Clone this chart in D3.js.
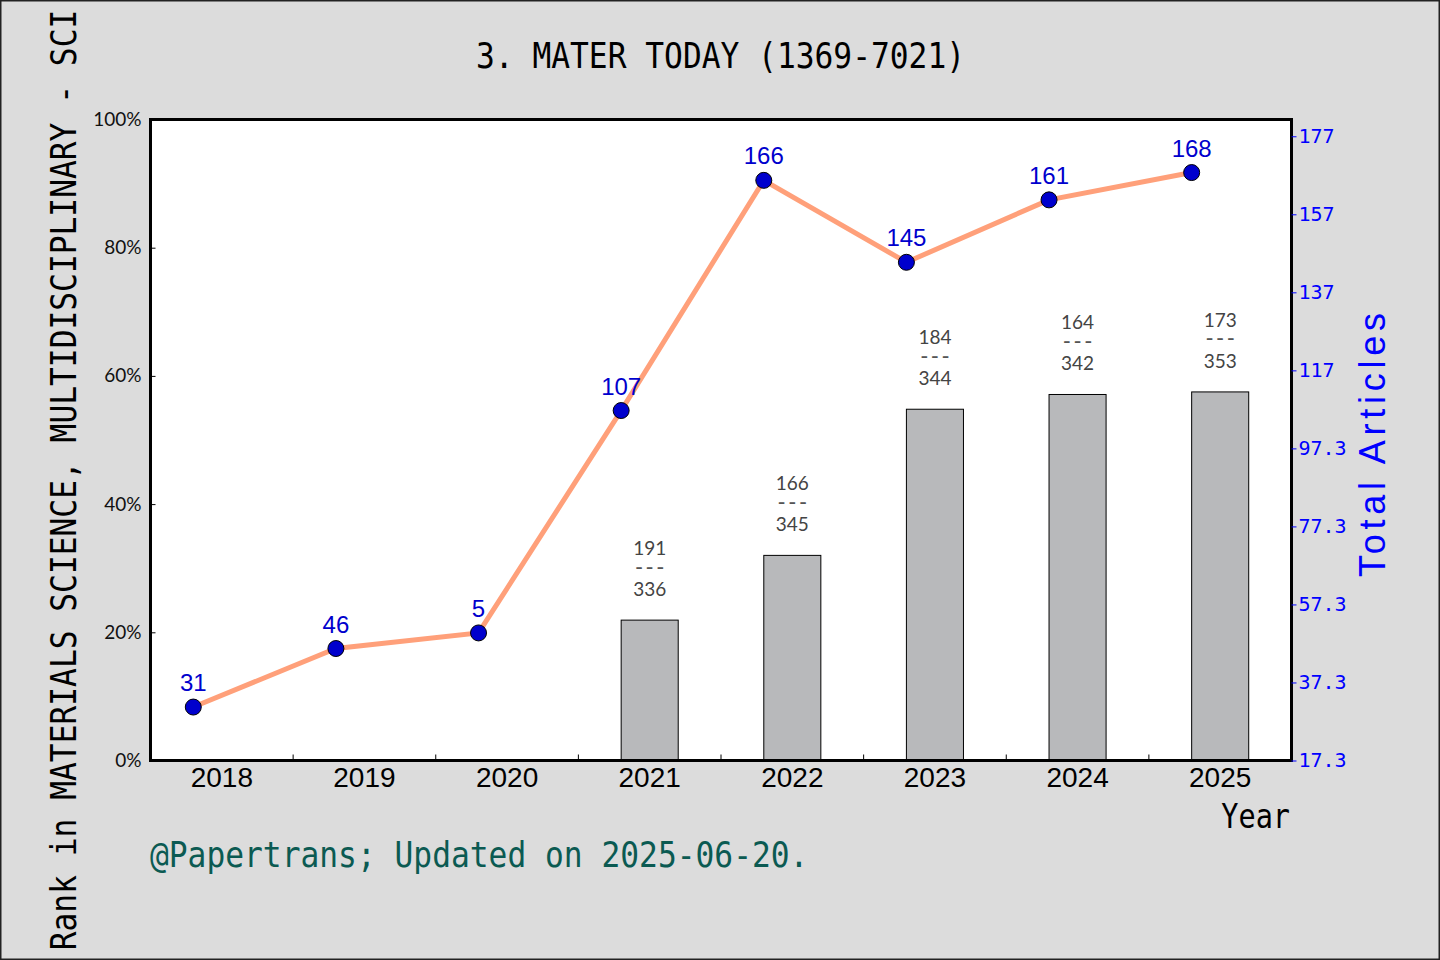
<!DOCTYPE html>
<html>
<head>
<meta charset="utf-8">
<script src="https://cdn.jsdelivr.net/npm/d3@7"></script>
<style>
  html, body { margin: 0; padding: 0; background: #dcdcdc; }
  svg { display: block; }
</style>
</head>
<body>
<svg id="chart" width="1440" height="960"></svg>
<script>
// ---------- data ----------
const years = ["2018", "2019", "2020", "2021", "2022", "2023", "2024", "2025"];
const articles = [31, 46, 50, 107, 166, 145, 161, 168];          // line, right axis
const articleLabels = ["31", "46", "5", "107", "166", "145", "161", "168"];
const barPct = [null, null, null, 21.9, 32.0, 54.8, 57.1, 57.5]; // bars, left axis (%)
const rankNum = [null, null, null, 191, 166, 184, 164, 173];
const rankDen = [null, null, null, 336, 345, 344, 342, 353];
const leftTicks = [0, 20, 40, 60, 80, 100];
const rightTicks = [17.3, 37.3, 57.3, 77.3, 97.3, 117.3, 137.3, 157.3, 177.3];
const rightDomain = [17.3, 181.6];
const titleText = "3. MATER TODAY (1369-7021)";
const yTitle = "Rank in MATERIALS SCIENCE, MULTIDISCIPLINARY - SCI";
const y2Title = "Total Articles";
const xTitle = "Year";
const caption = "@Papertrans; Updated on 2025-06-20.";

// ---------- layout ----------
const W = 1440, H = 960;
const P = { left: 150.5, right: 1291.5, top: 119.5, bottom: 760.5 };
const MONO = "'DejaVu Sans Mono', 'Liberation Mono', monospace";
const SANS = "'Liberation Sans', Arial, sans-serif";

const svg = d3.select("#chart");

svg.append("rect")
  .attr("x", 0.75).attr("y", 0.75).attr("width", W - 1.5).attr("height", H - 1.5)
  .attr("fill", "#dcdcdc").attr("stroke", "#222").attr("stroke-width", 1.5);

const x = d3.scaleBand().domain(years).range([P.left, P.right]).paddingInner(0).paddingOuter(0);
const yL = d3.scaleLinear().domain([0, 100]).range([P.bottom, P.top]);
const yR = d3.scaleLinear().domain(rightDomain).range([P.bottom, P.top]);
const bw = x.bandwidth();

// plot background
svg.append("rect")
  .attr("x", P.left).attr("y", P.top)
  .attr("width", P.right - P.left).attr("height", P.bottom - P.top)
  .attr("fill", "#fff");

// title (monospace, compressed horizontally)
svg.append("text")
  .attr("transform", "translate(720.5,68) scale(0.893,1)")
  .attr("text-anchor", "middle")
  .attr("font-family", MONO).attr("font-size", 35)
  .attr("fill", "#000")
  .text(titleText);

// bars
const barData = years.map((yr, i) => ({ yr, v: barPct[i], n: rankNum[i], d: rankDen[i] }))
  .filter(d => d.v != null);

svg.append("g").selectAll("rect").data(barData).join("rect")
  .attr("x", d => x(d.yr) + bw * 0.3)
  .attr("y", d => yL(d.v))
  .attr("width", bw * 0.4)
  .attr("height", d => yL(0) - yL(d.v))
  .attr("fill", "#b8b9bb").attr("stroke", "#000").attr("stroke-width", 1);

const lab = svg.append("g").attr("font-family", "Lato, 'Open Sans', sans-serif")
  .attr("font-size", 19).attr("fill", "#444").attr("text-anchor", "middle");
barData.forEach(d => {
  const cx = x(d.yr) + bw / 2;
  const top = yL(d.v);
  lab.append("text").attr("x", cx).attr("y", top - 65).text(d.n);
  lab.append("text").attr("x", cx).attr("y", top - 48.5)
    .attr("font-family", MONO).attr("font-size", 12).attr("font-weight", "bold")
    .attr("fill", "#555")
    .attr("textLength", 32).attr("lengthAdjust", "spacingAndGlyphs")
    .text("---");
  lab.append("text").attr("x", cx).attr("y", top - 24).text(d.d);
});

// line
const lineData = years.map((yr, i) => ({ yr, v: articles[i], label: articleLabels[i] }));
const px = d => x(d.yr) + bw * 0.3;
svg.append("path")
  .datum(lineData)
  .attr("d", d3.line().x(px).y(d => yR(d.v)))
  .attr("fill", "none").attr("stroke", "#ffa07a").attr("stroke-width", 5)
  .attr("stroke-linejoin", "miter");

svg.append("g").selectAll("circle").data(lineData).join("circle")
  .attr("cx", px).attr("cy", d => yR(d.v)).attr("r", 8)
  .attr("fill", "#0000cd").attr("stroke", "#000").attr("stroke-width", 1);

svg.append("g").selectAll("text").data(lineData).join("text")
  .attr("x", px).attr("y", d => yR(d.v) - 16)
  .attr("text-anchor", "middle")
  .attr("font-family", SANS).attr("font-size", 24)
  .attr("fill", "#0000cd")
  .text(d => d.label);

// plot border
svg.append("rect")
  .attr("x", P.left).attr("y", P.top)
  .attr("width", P.right - P.left).attr("height", P.bottom - P.top)
  .attr("fill", "none").attr("stroke", "#000").attr("stroke-width", 3);

// left axis
const gL = svg.append("g").attr("transform", `translate(${P.left},0)`)
  .call(d3.axisLeft(yL).tickValues(leftTicks).tickSizeInner(-5).tickSizeOuter(0)
    .tickPadding(9).tickFormat(d => d + "%"));
gL.select(".domain").remove();
gL.selectAll("line").attr("stroke", "#000");
gL.selectAll("text").attr("font-family", "Lato, 'Open Sans', sans-serif")
  .attr("font-size", 19).attr("fill", "#111");

// right axis
const gR = svg.append("g").attr("transform", `translate(${P.right},0)`)
  .call(d3.axisRight(yR).tickValues(rightTicks).tickSizeInner(5).tickSizeOuter(0)
    .tickPadding(2).tickFormat(d3.format(".3")));
gR.select(".domain").remove();
gR.selectAll("line").attr("stroke", "#0000ff");
gR.selectAll("text").attr("font-family", MONO)
  .attr("font-size", 20).attr("fill", "#0000ff");

// bottom axis (labels at band centres, ticks at band boundaries)
const gB = svg.append("g").attr("transform", `translate(0,${P.bottom})`)
  .call(d3.axisBottom(x).tickSize(0).tickPadding(0));
gB.select(".domain").remove();
gB.selectAll("text").attr("y", 26).attr("dy", 0)
  .attr("font-family", SANS).attr("font-size", 28).attr("fill", "#000");

svg.append("g").selectAll("line").data(years.slice(1)).join("line")
  .attr("x1", d => x(d)).attr("x2", d => x(d))
  .attr("y1", P.bottom).attr("y2", P.bottom - 6)
  .attr("stroke", "#000").attr("stroke-width", 1);

// axis titles
svg.append("text")
  .attr("transform", "translate(76,480) rotate(-90) scale(0.893,1)")
  .attr("text-anchor", "middle")
  .attr("font-family", MONO).attr("font-size", 35)
  .attr("fill", "#000")
  .text(yTitle);

svg.append("text")
  .attr("transform", "translate(1385,445) rotate(-90)")
  .attr("text-anchor", "middle")
  .attr("font-family", SANS).attr("font-size", 36)
  .attr("textLength", 264).attr("lengthAdjust", "spacing")
  .attr("fill", "#0000ff")
  .text(y2Title);

svg.append("text")
  .attr("transform", "translate(1290,828) scale(0.84,1)")
  .attr("text-anchor", "end")
  .attr("font-family", MONO).attr("font-size", 34)
  .attr("fill", "#000")
  .text(xTitle);

// caption
svg.append("text")
  .attr("transform", "translate(150,867) scale(0.893,1)")
  .attr("font-family", MONO).attr("font-size", 35)
  .attr("fill", "#0b5a52")
  .text(caption);
</script>
</body>
</html>
